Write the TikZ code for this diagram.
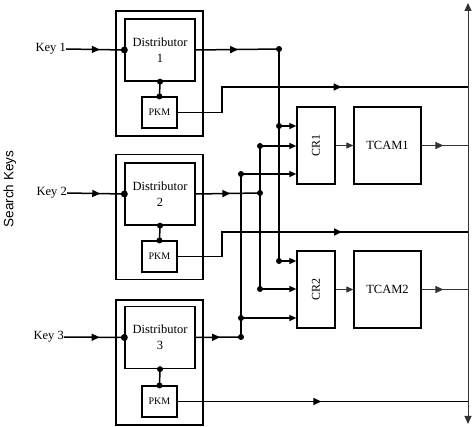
\documentclass[tikz,border=0pt]{standalone}
\usepackage{fontspec}
\setmainfont{Liberation Serif}
\newfontfamily\keysfont{Liberation Sans}
\usetikzlibrary{arrows.meta,decorations.markings}
\tikzset{
    outerbox/.style={draw, line width=1.8pt, minimum width=87pt, minimum height=125pt},
    distbox/.style ={draw, line width=1.3pt, minimum width=70pt, minimum height=62pt, align=center,
                     font=\fontsize{12.5}{16}\selectfont},
    pkmbox/.style  ={draw, line width=1.1pt, minimum width=35pt, minimum height=31pt,
                     font=\fontsize{10}{12}\selectfont},
    crbox/.style   ={draw, line width=1.3pt, minimum width=38pt, minimum height=77pt},
    tcambox/.style ={draw, line width=1.3pt, minimum width=67pt, minimum height=77pt,
                     font=\fontsize{12.5}{14}\selectfont},
    keylabel/.style={anchor=east, inner sep=0pt, font=\fontsize{12.5}{14}\selectfont},
    wire/.style    ={line width=1.5pt},
    thinwire/.style={line width=1pt, black!80},
    tip/.style     ={-{Triangle[length=7pt,width=6pt]}},
    midarrow/.style={postaction={decorate},
                     decoration={markings, mark=at position #1 with {\arrow{Triangle[length=8pt,width=7pt]}}}}
}
\begin{document}
\begin{tikzpicture}[x=1pt, y=-1pt]
            \useasboundingbox (0,0) rectangle (474,427);
            % left title
            \node[rotate=90, font=\keysfont\fontsize{13.5}{15}\selectfont] (title) at (10,189) {Search Keys};
            % distributor blocks
            \node[outerbox]           (blk1)  at (159.5, 73.5) {};
            \node[outerbox]           (blk2)  at (159.5,217.0) {};
            \node[outerbox]           (blk3)  at (159.5,362.5) {};
            \node[distbox]            (dist1) at (160.0, 50.0) {Distributor\\1};
            \node[distbox]            (dist2) at (160.0,194.0) {Distributor\\2};
            \node[distbox]            (dist3) at (160.0,337.5) {Distributor\\3};
            \node[pkmbox]             (pkm1)  at (159.5,112.5) {PKM};
            \node[pkmbox]             (pkm2)  at (159.5,256.5) {PKM};
            \node[pkmbox]             (pkm3)  at (159.5,401.5) {PKM};
            \node[keylabel]           (key1)  at ( 66.0, 49.0) {Key 1};
            \node[keylabel]           (key2)  at ( 67.0,193.0) {Key 2};
            \node[keylabel]           (key3)  at ( 64.0,337.0) {Key 3};
            % CR and TCAM
            \node[crbox]              (cr1)   at (316.0,145.5) {};
            \node[crbox]              (cr2)   at (316.0,289.5) {};
            \node[rotate=90, font=\fontsize{12}{13}\selectfont] (cr1txt) at (cr1) {CR1};
            \node[rotate=90, font=\fontsize{12}{13}\selectfont] (cr2txt) at (cr2) {CR2};
            \node[tcambox]            (tcam1) at (387.5,145.5) {TCAM1};
            \node[tcambox]            (tcam2) at (387.5,289.5) {TCAM2};
            % junction points
            \coordinate (bustop) at (468,  3);
            \coordinate (busbot) at (468,424);
            \coordinate (ja)  at (279, 49);
            \coordinate (jb)  at (260,193);
            \coordinate (jc)  at (241,337);
            \coordinate (ja1) at (279,126);
            \coordinate (ja2) at (279,261);
            \coordinate (jb1) at (260,146);
            \coordinate (jb2) at (260,289);
            \coordinate (jc1) at (241,174);
            \coordinate (jc2) at (241,318);
            \coordinate (pk1) at (222, 87);
            \coordinate (pk2) at (222,232);
            % keys into distributors
            \draw[wire, midarrow=0.58] (key1.east) -- (dist1.west);
            \draw[wire, midarrow=0.58] (key2.east) -- (dist2.west);
            \draw[wire, midarrow=0.59] (key3.east) -- (dist3.west);
            \draw[wire] (dist1.south) -- (pkm1.north);
            \draw[wire] (dist2.south) -- (pkm2.north);
            \draw[wire] (dist3.south) -- (pkm3.north);
            % distributor outputs
            \draw[wire, midarrow=0.51] (dist1.east) -- (ja);
            \draw[wire, midarrow=0.54] (dist2.east) -- (jb);
            \draw[wire, midarrow=0.54] (dist3.east) -- (jc);
            \draw[wire] (ja) -- (ja2);
            \draw[wire] (jb1) -- (jb2);
            \draw[wire] (jc1) -- (jc);
            \draw[wire, tip] (ja1) -- (ja1 -| cr1.west);
            \draw[wire, tip] (jb1) -- (jb1 -| cr1.west);
            \draw[wire, tip] (jc1) -- (jc1 -| cr1.west);
            \draw[wire, tip] (ja2) -- (ja2 -| cr2.west);
            \draw[wire, tip] (jb2) -- (jb2 -| cr2.west);
            \draw[wire, tip] (jc2) -- (jc2 -| cr2.west);
            % PKM outputs to the bus
            \draw[wire, midarrow=0.60] (pkm1.east) -| (pk1) -- (pk1 -| bustop);
            \draw[wire, midarrow=0.60] (pkm2.east) -| (pk2) -- (pk2 -| bustop);
            \draw[wire, midarrow=0.495] (pkm3.east) -- (pkm3.east -| bustop);
            % CR to TCAM to bus
            \draw[thinwire, tip] (cr1.east) -- (tcam1.west);
            \draw[thinwire, tip] (cr2.east) -- (tcam2.west);
            \draw[thinwire, midarrow=0.47] (tcam1.east) -- (tcam1.east -| bustop);
            \draw[thinwire, midarrow=0.47] (tcam2.east) -- (tcam2.east -| bustop);
            \draw[thinwire, {Triangle[length=8pt,width=7pt]}-{Triangle[length=8pt,width=7pt]}] (bustop) -- (busbot);
            % dots
            \fill (dist1.west) circle (3.5pt);
            \fill (dist2.west) circle (3.5pt);
            \fill (dist3.west) circle (3.5pt);
            \fill (dist1.south) circle (3pt);  \fill (pkm1.north) circle (3pt);
            \fill (dist2.south) circle (3pt);  \fill (pkm2.north) circle (3pt);
            \fill (dist3.south) circle (3pt);  \fill (pkm3.north) circle (3pt);
            \fill (ja)  circle (3pt);  \fill (jb)  circle (3pt);  \fill (jc)  circle (3pt);
            \fill (ja1) circle (3pt);  \fill (jb1) circle (3pt);  \fill (jc1) circle (3pt);
            \fill (ja2) circle (3pt);  \fill (jb2) circle (3pt);  \fill (jc2) circle (3pt);
        \end{tikzpicture}
\end{document}
